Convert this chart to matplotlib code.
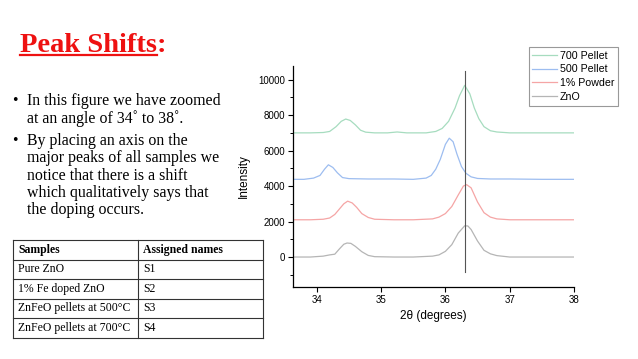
import matplotlib
matplotlib.use('Agg')
import matplotlib.pyplot as plt
from matplotlib.lines import Line2D

# XRD curves (2theta in degrees, intensity in counts)
zno_x = [33.65, 33.9, 34.1, 34.2, 34.28, 34.35, 34.42, 34.47, 34.53, 34.6, 34.7, 34.8, 34.9, 35.2, 35.5,
         35.8, 35.9, 36.0, 36.1, 36.2, 36.3, 36.35, 36.4, 36.5, 36.6, 36.7, 36.8, 37.0, 37.5, 38.0]
zno_y = [0, 0, 50, 120, 160, 450, 720, 790, 770, 600, 300, 90, 20, 0, 0,
         50, 120, 320, 700, 1350, 1760, 1750, 1550, 900, 380, 180, 80, 0, 0, 0]

powder_x = [33.65, 33.9, 34.1, 34.2, 34.28, 34.35, 34.42, 34.48, 34.55, 34.62, 34.7, 34.8, 34.9, 35.2, 35.5,
            35.8, 35.9, 36.0, 36.1, 36.2, 36.28, 36.33, 36.4, 36.5, 36.6, 36.7, 36.8, 37.0, 37.5, 38.0]
powder_y = [2100, 2100, 2130, 2200, 2400, 2700, 3000, 3150, 3050, 2800, 2450, 2230, 2130, 2100, 2100,
            2150, 2250, 2450, 2850, 3500, 4000, 4080, 3900, 3100, 2500, 2250, 2150, 2100, 2100, 2100]

p500_x = [33.65, 33.8, 33.95, 34.05, 34.12, 34.18, 34.25, 34.32, 34.4, 34.5, 34.8, 35.2, 35.5, 35.7,
          35.78, 35.85, 35.92, 36.0, 36.06, 36.12, 36.18, 36.25, 36.32, 36.4, 36.5, 36.7, 37.0, 37.5, 38.0]
p500_y = [4380, 4380, 4450, 4600, 4950, 5200, 5050, 4750, 4480, 4420, 4400, 4400, 4380, 4450,
          4600, 4950, 5500, 6350, 6700, 6500, 5800, 5100, 4720, 4520, 4430, 4400, 4400, 4380, 4380]

p700_x = [33.65, 33.9, 34.1, 34.2, 34.3, 34.38, 34.45, 34.52, 34.6, 34.68, 34.76, 34.9, 35.1, 35.25, 35.4,
          35.7, 35.85, 35.95, 36.05, 36.15, 36.22, 36.3, 36.38, 36.45, 36.52, 36.6, 36.7, 36.8, 37.0, 37.5, 38.0]
p700_y = [7000, 7000, 7020, 7080, 7350, 7650, 7780, 7700, 7450, 7150, 7040, 7000, 7000, 7050, 7000,
          7000, 7080, 7250, 7650, 8400, 9100, 9680, 9200, 8400, 7800, 7350, 7120, 7050, 7000, 7000, 7000]

series_labels = ['700 Pellet', '500 Pellet', '1% Powder', 'ZnO']
series_colors = ['#a6dcbf', '#9dbdf0', '#f5a5a5', '#b5b5b5']
marker_angle = 36.3

bullets = [
    ['In this figure we have zoomed', 'at an angle of 34\u02da to 38\u02da.'],
    ['By placing an axis on the', 'major peaks of all samples we', 'notice that there is a shift',
     'which qualitatively says that', 'the doping occurs.'],
]

table_samples = ['Samples', 'Pure ZnO', '1% Fe doped ZnO', 'ZnFeO pellets at 500\u00b0C', 'ZnFeO pellets at 700\u00b0C']
table_names = ['Assigned names', 'S1', 'S2', 'S3', 'S4']

W, H = 638, 359
fig = plt.figure(figsize=(W / 100, H / 100), dpi=100)
serif = ['Liberation Serif', 'DejaVu Serif']
sans = ['Liberation Sans', 'DejaVu Sans']

# title with underline
title = fig.text(20 / W, 1 - 45 / H, 'Peak Shifts', color='#ee1111', fontsize=20.5, fontweight='bold',
                 family=serif, va='center', ha='left')
fig.canvas.draw()
bb = title.get_window_extent(fig.canvas.get_renderer())
fig.text(bb.x1 / W, 1 - 45 / H, ':', color='#ee1111', fontsize=20.5, fontweight='bold',
         family=serif, va='center', ha='left')
fig.add_artist(Line2D([bb.x0 / W, bb.x1 / W], [1 - 55 / H, 1 - 55 / H], color='#ee1111', lw=1.6))

# bullet text
y = 101
for group in bullets:
    fig.text(12 / W, 1 - y / H, '\u2022', fontsize=11.4, family=serif, va='center', ha='left')
    for line in group:
        fig.text(27 / W, 1 - y / H, line, fontsize=11.4, family=serif, va='center', ha='left')
        y += 17.3
    y += 5.5

# table
tx0, tx1, tx2 = 13, 138, 263
ty = [240, 259.5, 279, 298.5, 318, 337.5]
for yy in ty:
    fig.add_artist(Line2D([tx0 / W, tx2 / W], [1 - yy / H, 1 - yy / H], color='#333333', lw=0.8))
for xx in (tx0, tx1, tx2):
    fig.add_artist(Line2D([xx / W, xx / W], [1 - ty[0] / H, 1 - ty[-1] / H], color='#333333', lw=0.8))
for i in range(len(table_samples)):
    yc = 1 - (ty[i] + ty[i + 1]) / 2 / H
    wt = 'bold' if i == 0 else 'normal'
    fig.text((tx0 + 5) / W, yc, table_samples[i], fontsize=8.5, family=serif, fontweight=wt, va='center')
    fig.text((tx1 + 5) / W, yc, table_names[i], fontsize=8.5, family=serif, fontweight=wt, va='center')

# chart
ax = fig.add_axes([293 / W, 1 - 287 / H, (574 - 293) / W, (287 - 66) / H])
xs = [p700_x, p500_x, powder_x, zno_x]
ys = [p700_y, p500_y, powder_y, zno_y]
handles = []
for x, yv, lab, col in zip(xs, ys, series_labels, series_colors):
    h, = ax.plot(x, yv, color=col, lw=0.9, label=lab)
    handles.append(h)
ax.plot([marker_angle, marker_angle], [-850, 10500], color='#555555', lw=0.8)

ax.set_xlim(33.63, 38)
ax.set_ylim(-1690, 10770)
ax.set_xticks([34, 35, 36, 37, 38])
ax.set_xticks([33.5 + 0.5 * k for k in range(1, 10, 2)], minor=True)
ax.set_yticks([0, 2000, 4000, 6000, 8000, 10000])
ax.set_yticks([-1000, 1000, 3000, 5000, 7000, 9000], minor=True)
for s in ('top', 'right'):
    ax.spines[s].set_visible(False)
for s in ('left', 'bottom'):
    ax.spines[s].set_linewidth(0.9)
ax.tick_params(which='major', length=3.5, width=0.8, labelsize=7, pad=2)
ax.tick_params(which='minor', length=2, width=0.7)
for lbl in ax.get_xticklabels() + ax.get_yticklabels():
    lbl.set_family(sans)
ax.set_xlabel('2\u03b8 (degrees)', fontsize=8.5, family=sans, labelpad=4)
ax.set_ylabel('Intensity', fontsize=8.5, family=sans, labelpad=6)

leg = fig.legend(handles=handles, loc='upper right', bbox_to_anchor=(618 / W, 1 - 47 / H),
                 prop={'family': 'Liberation Sans', 'size': 7.7}, frameon=True, fancybox=False,
                 edgecolor='#999999', framealpha=1, handlelength=2.3, handletextpad=0.25,
                 labelspacing=0.35, borderpad=0.35, borderaxespad=0)
leg.get_frame().set_linewidth(0.8)

fig.savefig('out.png', dpi=100)
